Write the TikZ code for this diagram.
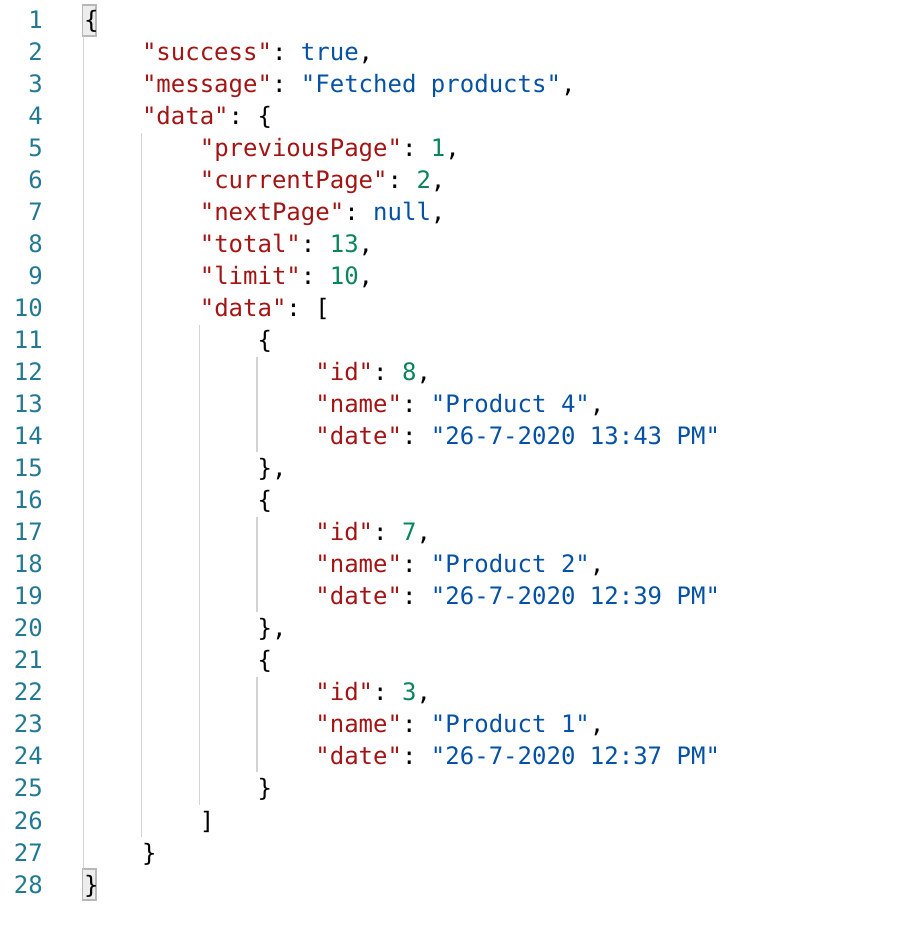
\documentclass[tikz,border=0pt]{standalone}
\usepackage{fontspec}
\setmonofont{DejaVu Sans Mono}
\definecolor{lnum}{HTML}{237893}
\definecolor{key}{HTML}{A31515}
\definecolor{str}{HTML}{0451A5}
\definecolor{num}{HTML}{098658}
\definecolor{guide}{HTML}{D3D3D3}
\newcommand{\K}[1]{\textcolor{key}{"#1"}}
\newcommand{\St}[1]{\textcolor{str}{"#1"}}
\newcommand{\Nm}[1]{\textcolor{num}{#1}}
\newcommand{\Bl}[1]{\textcolor{str}{#1}}
\newcommand{\CL}[3]{%
  \node[lnumst] (n#1) at (43,{28+(#1-1)*32.04}) {#1};
  \node[codest] (c#1) at ({84+#2*14.45},{28+(#1-1)*32.04}) {#3};}
\newcommand{\GD}[3]{\draw[guidest] (#1,#2) -- (#1,#3);}
\begin{document}
\begin{tikzpicture}[x=1pt,y=-1pt,
  lnumst/.style={anchor=base east,inner sep=0,text=lnum,font=\fontsize{24}{24}\ttfamily},
  codest/.style={anchor=base west,inner sep=0,font=\fontsize{24}{24}\ttfamily},
  guidest/.style={draw=guide,line width=1.6pt},
  hlbox/.style={draw=black!28,fill=black!7,line width=1.4pt}]
\fill[white] (0,0) rectangle (918,926);
\useasboundingbox (0,0) rectangle (918,926);
\draw[hlbox] (82.5,5) rectangle (96,36);
\draw[hlbox] (82.5,869) rectangle (96,900);
\GD{83.3}{36}{869}
\GD{141.5}{133}{837}
\GD{199.3}{325}{805}
\GD{256.8}{357}{452}
\GD{256.8}{517}{612}
\GD{256.8}{677}{772}
\CL{1}{0}{\{}
\CL{2}{4}{\K{success}: \Bl{true},}
\CL{3}{4}{\K{message}: \St{Fetched products},}
\CL{4}{4}{\K{data}: \{}
\CL{5}{8}{\K{previousPage}: \Nm{1},}
\CL{6}{8}{\K{currentPage}: \Nm{2},}
\CL{7}{8}{\K{nextPage}: \Bl{null},}
\CL{8}{8}{\K{total}: \Nm{13},}
\CL{9}{8}{\K{limit}: \Nm{10},}
\CL{10}{8}{\K{data}: [}
\CL{11}{12}{\{}
\CL{12}{16}{\K{id}: \Nm{8},}
\CL{13}{16}{\K{name}: \St{Product 4},}
\CL{14}{16}{\K{date}: \St{26-7-2020 13:43 PM}}
\CL{15}{12}{\},}
\CL{16}{12}{\{}
\CL{17}{16}{\K{id}: \Nm{7},}
\CL{18}{16}{\K{name}: \St{Product 2},}
\CL{19}{16}{\K{date}: \St{26-7-2020 12:39 PM}}
\CL{20}{12}{\},}
\CL{21}{12}{\{}
\CL{22}{16}{\K{id}: \Nm{3},}
\CL{23}{16}{\K{name}: \St{Product 1},}
\CL{24}{16}{\K{date}: \St{26-7-2020 12:37 PM}}
\CL{25}{12}{\}}
\CL{26}{8}{]}
\CL{27}{4}{\}}
\CL{28}{0}{\}}
\end{tikzpicture}
\end{document}
